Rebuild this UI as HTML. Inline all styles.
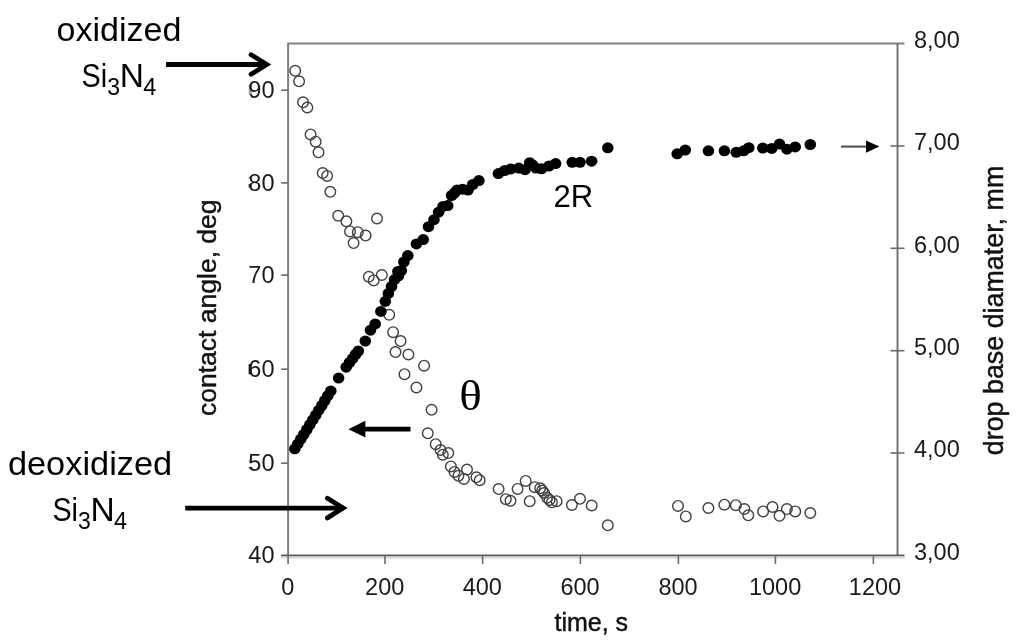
<!DOCTYPE html>
<html lang="en"><head><meta charset="utf-8"><title>Contact angle and drop base diameter vs time</title>
<style>html,body{margin:0;padding:0;background:#fff}body{width:1024px;height:644px;overflow:hidden}svg{display:block}</style>
</head><body>
<svg width="1024" height="644" viewBox="0 0 1024 644">
<rect width="1024" height="644" fill="#fff"/>
<g>
<rect x="281.1" y="556.1999999999999" width="623.4" height="2.4" fill="#dcdcdc"/>
<g stroke="#808080" stroke-width="2" fill="none">
<path d="M288.1 555.4 V43.6 H904.5"/>
<path d="M897.5 43.6 V555.4" stroke="#707070" stroke-width="1.9"/>
<path d="M281.1 555.4 H904.5" stroke="#5c5c5c" stroke-width="1.8"/>
</g>
<g stroke="#6a6a6a" stroke-width="1.6" fill="none">
<path d="M281.1 463.2 H288.1"/>
<path d="M281.1 369.2 H288.1"/>
<path d="M281.1 275.1 H288.1"/>
<path d="M281.1 182.9 H288.1"/>
<path d="M281.1 90.2 H288.1"/>
<path d="M890.5 453.0 H904.5"/>
<path d="M890.5 350.7 H904.5"/>
<path d="M890.5 248.3 H904.5"/>
<path d="M890.5 146.0 H904.5"/>
<path d="M288.1 555.4 V564.0"/>
<path d="M385.0 555.4 V564.0"/>
<path d="M482.6 555.4 V564.0"/>
<path d="M580.4 555.4 V564.0"/>
<path d="M678.4 555.4 V564.0"/>
<path d="M775.4 555.4 V564.0"/>
<path d="M873.4 555.4 V564.0"/>
</g>
<g fill="#222"><rect x="248.6" y="364" width="3" height="10.3"/><rect x="248.6" y="184.2" width="3" height="3.2"/><rect x="248.6" y="176.6" width="3" height="2" opacity=".5"/><rect x="248.8" y="85" width="3" height="10" opacity=".45"/><rect x="248.6" y="467" width="3.4" height="1.3" opacity=".7"/><rect x="248.6" y="460.6" width="3" height="1.3" opacity=".4"/></g>
<g font-family="'Liberation Sans', Arial, sans-serif" font-size="23.5" fill="#1a1a1a">
<text x="274.5" y="563.3" text-anchor="end">40</text>
<text x="274.5" y="471.1" text-anchor="end">50</text>
<text x="274.5" y="377.1" text-anchor="end">60</text>
<text x="274.5" y="283.0" text-anchor="end">70</text>
<text x="274.5" y="190.8" text-anchor="end">80</text>
<text x="274.5" y="98.1" text-anchor="end">90</text>
<text x="914" y="559.8">3,00</text>
<text x="914" y="457.4">4,00</text>
<text x="914" y="355.1">5,00</text>
<text x="914" y="252.7">6,00</text>
<text x="914" y="150.4">7,00</text>
<text x="914" y="48.0">8,00</text>
<text x="287.8" y="594.8" text-anchor="middle">0</text>
<text x="384.7" y="594.8" text-anchor="middle">200</text>
<text x="482.3" y="594.8" text-anchor="middle">400</text>
<text x="580.1" y="594.8" text-anchor="middle">600</text>
<text x="678.1" y="594.8" text-anchor="middle">800</text>
<text x="775.1" y="594.8" text-anchor="middle">1000</text>
<text x="875.0" y="594.8" text-anchor="middle">1200</text>
</g>
<g font-family="'Liberation Sans', Arial, sans-serif" fill="#111" stroke="#111" stroke-width="0.45">
<text x="554.5" y="631.4" font-size="25">time, s</text>
<text transform="translate(216.2 416) rotate(-90)" font-size="26.5">contact angle, deg</text>
<text transform="translate(1002.7 455.2) rotate(-90)" font-size="26.85">drop base diamater, mm</text>
</g>
<g fill="none" stroke="#404040" stroke-width="1.4">
<circle cx="295.2" cy="70.8" r="5.3"/>
<circle cx="299.1" cy="81.3" r="5.3"/>
<circle cx="303.1" cy="102.3" r="5.3"/>
<circle cx="307.3" cy="107.5" r="5.3"/>
<circle cx="310.6" cy="134.4" r="5.3"/>
<circle cx="315.7" cy="141.7" r="5.3"/>
<circle cx="318.5" cy="152.3" r="5.3"/>
<circle cx="322.7" cy="173.1" r="5.3"/>
<circle cx="327.1" cy="175.9" r="5.3"/>
<circle cx="330.3" cy="191.8" r="5.3"/>
<circle cx="338.2" cy="215.8" r="5.3"/>
<circle cx="346.4" cy="221.3" r="5.3"/>
<circle cx="350.0" cy="231.4" r="5.3"/>
<circle cx="357.8" cy="232.2" r="5.3"/>
<circle cx="365.6" cy="235.6" r="5.3"/>
<circle cx="353.6" cy="243.1" r="5.3"/>
<circle cx="377.0" cy="218.5" r="5.3"/>
<circle cx="368.8" cy="276.8" r="5.3"/>
<circle cx="373.7" cy="280.4" r="5.3"/>
<circle cx="381.8" cy="275.0" r="5.3"/>
<circle cx="389.2" cy="314.8" r="5.3"/>
<circle cx="393.1" cy="332.2" r="5.3"/>
<circle cx="400.6" cy="341.1" r="5.3"/>
<circle cx="395.5" cy="352.1" r="5.3"/>
<circle cx="408.4" cy="354.5" r="5.3"/>
<circle cx="424.1" cy="365.7" r="5.3"/>
<circle cx="404.5" cy="374.2" r="5.3"/>
<circle cx="416.4" cy="387.5" r="5.3"/>
<circle cx="431.6" cy="409.8" r="5.3"/>
<circle cx="427.8" cy="433.3" r="5.3"/>
<circle cx="435.7" cy="444.2" r="5.3"/>
<circle cx="440.5" cy="450.0" r="5.3"/>
<circle cx="442.8" cy="454.7" r="5.3"/>
<circle cx="448.3" cy="453.1" r="5.3"/>
<circle cx="450.9" cy="466.4" r="5.3"/>
<circle cx="454.5" cy="471.9" r="5.3"/>
<circle cx="458.4" cy="475.8" r="5.3"/>
<circle cx="463.9" cy="478.9" r="5.3"/>
<circle cx="467.0" cy="469.5" r="5.3"/>
<circle cx="476.4" cy="477.3" r="5.3"/>
<circle cx="479.7" cy="480.2" r="5.3"/>
<circle cx="498.6" cy="489.1" r="5.3"/>
<circle cx="505.8" cy="499.2" r="5.3"/>
<circle cx="510.5" cy="500.8" r="5.3"/>
<circle cx="517.6" cy="488.9" r="5.3"/>
<circle cx="525.7" cy="480.9" r="5.3"/>
<circle cx="529.7" cy="501.2" r="5.3"/>
<circle cx="534.7" cy="487.2" r="5.3"/>
<circle cx="540.2" cy="488.3" r="5.3"/>
<circle cx="544.1" cy="493.0" r="5.3"/>
<circle cx="542.2" cy="490.6" r="5.3"/>
<circle cx="549.5" cy="500.0" r="5.3"/>
<circle cx="547.2" cy="497.7" r="5.3"/>
<circle cx="551.9" cy="502.3" r="5.3"/>
<circle cx="556.6" cy="501.2" r="5.3"/>
<circle cx="571.9" cy="505.0" r="5.3"/>
<circle cx="580.0" cy="498.8" r="5.3"/>
<circle cx="591.7" cy="505.5" r="5.3"/>
<circle cx="607.8" cy="525.3" r="5.3"/>
<circle cx="678.0" cy="505.9" r="5.3"/>
<circle cx="685.8" cy="516.4" r="5.3"/>
<circle cx="708.4" cy="508.0" r="5.3"/>
<circle cx="724.4" cy="504.7" r="5.3"/>
<circle cx="735.8" cy="505.2" r="5.3"/>
<circle cx="744.4" cy="509.1" r="5.3"/>
<circle cx="748.3" cy="515.3" r="5.3"/>
<circle cx="763.1" cy="511.4" r="5.3"/>
<circle cx="772.5" cy="507.0" r="5.3"/>
<circle cx="779.5" cy="515.8" r="5.3"/>
<circle cx="786.9" cy="509.1" r="5.3"/>
<circle cx="795.2" cy="511.4" r="5.3"/>
<circle cx="810.3" cy="513.0" r="5.3"/>
</g>
<g fill="#000">
<ellipse cx="294.8" cy="448.8" rx="5.8" ry="5.5"/>
<ellipse cx="297.8" cy="443.9" rx="5.8" ry="5.5"/>
<ellipse cx="300.8" cy="439.1" rx="5.8" ry="5.5"/>
<ellipse cx="303.8" cy="434.3" rx="5.8" ry="5.5"/>
<ellipse cx="306.8" cy="429.5" rx="5.8" ry="5.5"/>
<ellipse cx="309.8" cy="424.6" rx="5.8" ry="5.5"/>
<ellipse cx="312.8" cy="419.8" rx="5.8" ry="5.5"/>
<ellipse cx="315.8" cy="415.0" rx="5.8" ry="5.5"/>
<ellipse cx="318.8" cy="410.2" rx="5.8" ry="5.5"/>
<ellipse cx="321.8" cy="405.4" rx="5.8" ry="5.5"/>
<ellipse cx="324.8" cy="400.5" rx="5.8" ry="5.5"/>
<ellipse cx="327.8" cy="395.7" rx="5.8" ry="5.5"/>
<ellipse cx="330.8" cy="390.9" rx="5.8" ry="5.5"/>
<ellipse cx="338.6" cy="378.1" rx="5.8" ry="5.5"/>
<ellipse cx="346.2" cy="367.2" rx="5.8" ry="5.5"/>
<ellipse cx="349.5" cy="362.5" rx="5.8" ry="5.5"/>
<ellipse cx="352.6" cy="358.6" rx="5.8" ry="5.5"/>
<ellipse cx="355.5" cy="354.5" rx="5.8" ry="5.5"/>
<ellipse cx="358.3" cy="351.0" rx="5.8" ry="5.5"/>
<ellipse cx="365.3" cy="341.1" rx="5.8" ry="5.5"/>
<ellipse cx="370.5" cy="330.2" rx="5.8" ry="5.5"/>
<ellipse cx="375.2" cy="323.9" rx="5.8" ry="5.5"/>
<ellipse cx="380.9" cy="311.4" rx="5.8" ry="5.5"/>
<ellipse cx="385.3" cy="301.3" rx="5.8" ry="5.5"/>
<ellipse cx="388.4" cy="293.4" rx="5.8" ry="5.5"/>
<ellipse cx="391.5" cy="286.5" rx="5.8" ry="5.5"/>
<ellipse cx="394.5" cy="279.6" rx="5.8" ry="5.5"/>
<ellipse cx="397.9" cy="271.4" rx="5.8" ry="5.5"/>
<ellipse cx="401.3" cy="270.6" rx="5.8" ry="5.5"/>
<ellipse cx="398.6" cy="275.8" rx="5.8" ry="5.5"/>
<ellipse cx="403.9" cy="261.9" rx="5.8" ry="5.5"/>
<ellipse cx="407.8" cy="255.6" rx="5.8" ry="5.5"/>
<ellipse cx="416.4" cy="243.9" rx="5.8" ry="5.5"/>
<ellipse cx="423.2" cy="239.6" rx="5.8" ry="5.5"/>
<ellipse cx="428.5" cy="226.7" rx="5.8" ry="5.5"/>
<ellipse cx="434.0" cy="219.7" rx="5.8" ry="5.5"/>
<ellipse cx="438.6" cy="212.2" rx="5.8" ry="5.5"/>
<ellipse cx="443.0" cy="206.4" rx="5.8" ry="5.5"/>
<ellipse cx="447.7" cy="205.6" rx="5.8" ry="5.5"/>
<ellipse cx="451.6" cy="195.5" rx="5.8" ry="5.5"/>
<ellipse cx="454.5" cy="193.0" rx="5.8" ry="5.5"/>
<ellipse cx="457.0" cy="190.0" rx="5.8" ry="5.5"/>
<ellipse cx="462.5" cy="189.2" rx="5.8" ry="5.5"/>
<ellipse cx="468.0" cy="190.0" rx="5.8" ry="5.5"/>
<ellipse cx="472.7" cy="184.5" rx="5.8" ry="5.5"/>
<ellipse cx="478.9" cy="180.6" rx="5.8" ry="5.5"/>
<ellipse cx="498.4" cy="173.6" rx="5.8" ry="5.5"/>
<ellipse cx="504.7" cy="170.5" rx="5.8" ry="5.5"/>
<ellipse cx="510.9" cy="168.9" rx="5.8" ry="5.5"/>
<ellipse cx="518.8" cy="168.1" rx="5.8" ry="5.5"/>
<ellipse cx="525.0" cy="169.7" rx="5.8" ry="5.5"/>
<ellipse cx="529.7" cy="162.7" rx="5.8" ry="5.5"/>
<ellipse cx="532.3" cy="164.7" rx="5.8" ry="5.5"/>
<ellipse cx="535.9" cy="168.1" rx="5.8" ry="5.5"/>
<ellipse cx="541.5" cy="168.8" rx="5.8" ry="5.5"/>
<ellipse cx="549.0" cy="166.0" rx="5.8" ry="5.5"/>
<ellipse cx="555.6" cy="163.6" rx="5.8" ry="5.5"/>
<ellipse cx="572.2" cy="162.3" rx="5.8" ry="5.5"/>
<ellipse cx="580.0" cy="162.3" rx="5.8" ry="5.5"/>
<ellipse cx="591.6" cy="161.2" rx="5.8" ry="5.5"/>
<ellipse cx="607.8" cy="147.8" rx="5.8" ry="5.5"/>
<ellipse cx="677.2" cy="153.8" rx="5.8" ry="5.5"/>
<ellipse cx="685.3" cy="150.0" rx="5.8" ry="5.5"/>
<ellipse cx="708.4" cy="150.8" rx="5.8" ry="5.5"/>
<ellipse cx="724.4" cy="150.8" rx="5.8" ry="5.5"/>
<ellipse cx="736.2" cy="152.3" rx="5.8" ry="5.5"/>
<ellipse cx="743.6" cy="150.8" rx="5.8" ry="5.5"/>
<ellipse cx="748.8" cy="147.7" rx="5.8" ry="5.5"/>
<ellipse cx="762.8" cy="148.1" rx="5.8" ry="5.5"/>
<ellipse cx="771.7" cy="148.4" rx="5.8" ry="5.5"/>
<ellipse cx="779.5" cy="144.1" rx="5.8" ry="5.5"/>
<ellipse cx="786.9" cy="149.2" rx="5.8" ry="5.5"/>
<ellipse cx="795.2" cy="146.9" rx="5.8" ry="5.5"/>
<ellipse cx="810.3" cy="144.5" rx="5.8" ry="5.5"/>
</g>
<path d="M841 146.6 H867" stroke="#555" stroke-width="2.2"/>
<path d="M866 140.4 L879.3 146.6 L866 152.8 Z" fill="#000"/>
</g>
<path d="M410.5 429.2 H364" stroke="#000" stroke-width="4.7"/>
<path d="M365.4 420.8 L348.4 429.2 L365.4 437.6 Z" fill="#000"/>
<g stroke="#000" stroke-width="4.8" fill="none"><path d="M166.1 64.5 H267.4"/><path d="M251.09999999999997 54.7 L266.79999999999995 64.5 L251.09999999999997 74.3" stroke-linecap="round" stroke-linejoin="miter"/></g>
<g stroke="#000" stroke-width="4.8" fill="none"><path d="M185.2 508.1 H343.7"/><path d="M327.4 498.3 L343.09999999999997 508.1 L327.4 517.9" stroke-linecap="round" stroke-linejoin="miter"/></g>
<g font-family="'Liberation Sans', Arial, sans-serif" fill="#000">
<text x="56.5" y="41.3" font-size="33" textLength="125" lengthAdjust="spacingAndGlyphs">oxidized</text>
<text x="81.6" y="86.6" font-size="32.7" textLength="25.6" lengthAdjust="spacingAndGlyphs">Si</text>
<text x="107.19999999999999" y="94.89999999999999" font-size="23">3</text>
<text x="119.8" y="86.6" font-size="32.7" textLength="24.2" lengthAdjust="spacingAndGlyphs">N</text>
<text x="143.2" y="94.89999999999999" font-size="23.5">4</text>
<text x="7.9" y="474.8" font-size="33.5" textLength="164.3" lengthAdjust="spacingAndGlyphs">deoxidized</text>
<text x="52.4" y="520.5" font-size="32.7" textLength="25.6" lengthAdjust="spacingAndGlyphs">Si</text>
<text x="78.0" y="528.8" font-size="23">3</text>
<text x="90.6" y="520.5" font-size="32.7" textLength="24.2" lengthAdjust="spacingAndGlyphs">N</text>
<text x="114.0" y="528.8" font-size="23.5">4</text>
<text x="553.5" y="206.9" font-size="30.7" textLength="39.7" lengthAdjust="spacingAndGlyphs">2R</text>
</g>
<text x="459.3" y="410.4" textLength="22.5" lengthAdjust="spacingAndGlyphs" font-family="'Liberation Serif', 'Times New Roman', serif" font-size="43.2" fill="#000">θ</text>
</svg>
</body></html>
